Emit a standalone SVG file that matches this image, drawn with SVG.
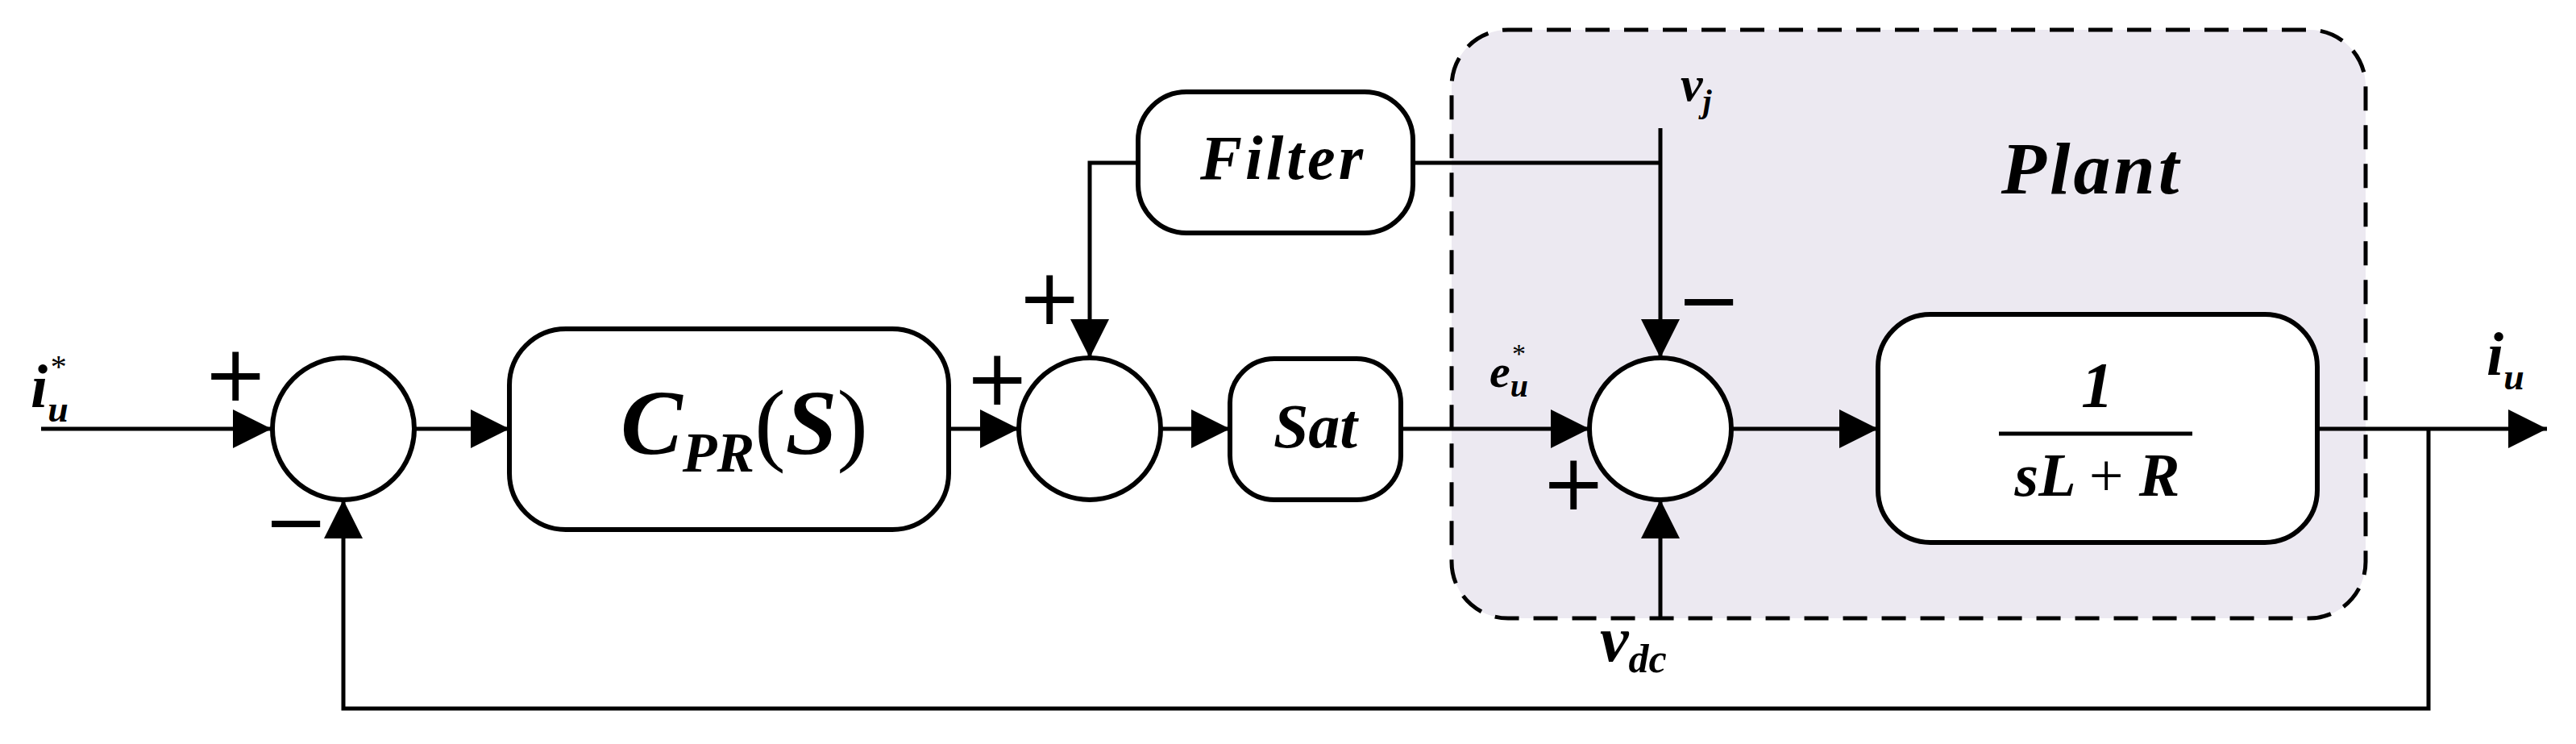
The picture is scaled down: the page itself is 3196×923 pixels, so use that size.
<svg xmlns="http://www.w3.org/2000/svg" width="3196" height="923" viewBox="0 0 3196 923">
<style>
.b{fill:#fff;stroke:#000;stroke-width:6}
.w{fill:none;stroke:#000;stroke-width:5}
.t{font-family:"Liberation Serif",serif;font-style:italic;font-weight:bold;fill:#000}
.s{font-family:"DejaVu Sans",sans-serif;font-size:96px;fill:#000}
</style>
<defs>
<marker id="a" markerUnits="userSpaceOnUse" markerWidth="50" markerHeight="50" refX="48" refY="24" orient="auto">
<path d="M0,0 L48,24 L0,48 Z" fill="#000"/>
</marker>
</defs>
<rect x="1801" y="37" width="1134" height="730" rx="70" fill="#ece9f1" stroke="#000" stroke-width="5" stroke-dasharray="30,18"/>
<g id="connectors">
<path class="w" d="M51,532 H337" marker-end="url(#a)"/>
<path class="w" d="M514,532 H632" marker-end="url(#a)"/>
<path class="w" d="M1177,532 H1264" marker-end="url(#a)"/>
<path class="w" d="M1440,532 H1526" marker-end="url(#a)"/>
<path class="w" d="M1738,532 H1972" marker-end="url(#a)"/>
<path class="w" d="M1412,202 H1352 V444" marker-end="url(#a)"/>
<path class="w" d="M1753,202 H2060"/>
<path class="w" d="M2060,159 V444" marker-end="url(#a)"/>
<path class="w" d="M2060,767 V620" marker-end="url(#a)"/>
<path class="w" d="M2148,532 H2330" marker-end="url(#a)"/>
<path class="w" d="M2875,532 H3160" marker-end="url(#a)"/>
<path class="w" d="M3013,532 V879 H426 V620" marker-end="url(#a)"/>
</g>
<g id="sum1"><circle class="b" cx="426" cy="532" r="88"/></g>
<g id="cpr"><rect class="b" x="632" y="408" width="545" height="249" rx="70"/>
<text class="t" x="770" y="563" font-size="115">C<tspan font-size="70" dy="22">PR</tspan><tspan dy="-22" font-style="normal" font-weight="normal">(</tspan>S<tspan font-style="normal" font-weight="normal">)</tspan></text></g>
<g id="sum2"><circle class="b" cx="1352" cy="532" r="88"/></g>
<g id="sat"><rect class="b" x="1526" y="445" width="212" height="175" rx="55"/>
<text class="t" x="1632" y="555" font-size="78" text-anchor="middle">Sat</text></g>
<g id="filter"><rect class="b" x="1412" y="114" width="341" height="175" rx="60"/>
<text class="t" x="1592" y="222" font-size="78" text-anchor="middle" letter-spacing="4">Filter</text></g>
<g id="sum3"><circle class="b" cx="2060" cy="532" r="88"/></g>
<g id="plant"><rect class="b" x="2330" y="390" width="545" height="283" rx="65"/>
<text class="t" x="2602" y="505" font-size="80" text-anchor="middle" font-style="normal">1</text>
<line x1="2480" y1="538" x2="2720" y2="538" stroke="#000" stroke-width="5"/>
<text class="t" x="2602" y="615" font-size="76" text-anchor="middle">sL <tspan font-style="normal" font-weight="normal">+</tspan> R</text></g>
<text class="t" x="2595" y="240" font-size="92" text-anchor="middle" letter-spacing="4">Plant</text>
<text class="t" x="38" y="505" font-size="76">i<tspan font-size="46" dy="18">u</tspan><tspan font-size="40" font-style="normal" font-weight="normal" dx="-22" dy="-55">*</tspan></text>
<text class="t" x="3085" y="465" font-size="76">i<tspan font-size="46" dy="18">u</tspan></text>
<text class="t" x="1848" y="480" font-size="58">e<tspan font-size="40" dy="12">u</tspan><tspan font-size="34" font-style="normal" font-weight="normal" dx="-20" dy="-42">*</tspan></text>
<text class="t" x="2085" y="125" font-size="62">v<tspan font-size="40" dy="14">j</tspan></text>
<text class="t" x="1985" y="820" font-size="80">v<tspan font-size="50" dy="14">dc</tspan></text>
<text class="s" x="252" y="497">+</text>
<text class="s" x="327" y="680">−</text>
<text class="s" x="1197" y="502">+</text>
<text class="s" x="1262" y="402">+</text>
<text class="s" x="2080" y="405">−</text>
<text class="s" x="1912" y="632">+</text>
</svg>
